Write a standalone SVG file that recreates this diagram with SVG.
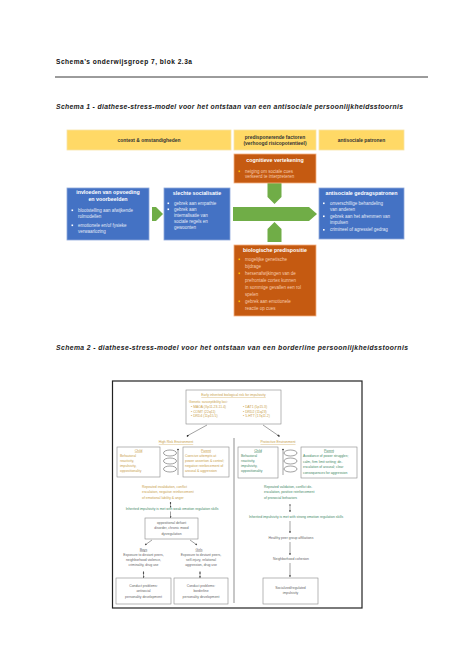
<svg xmlns="http://www.w3.org/2000/svg" width="474" height="669" viewBox="0 0 474 669">
<defs>
<style>
.t{font-family:"Liberation Sans",Arial,sans-serif}
.hdr{font-size:6.6px;font-weight:bold;fill:#111}
.ttl{font-size:6.8px;font-style:italic;font-weight:bold;fill:#222}
.yb{fill:#FFD966;stroke:#F7E4A6;stroke-width:0.8}
.yt{font-size:4.9px;font-weight:bold;fill:#333;text-anchor:middle}
.bb{fill:#4472C4;stroke:#8EA9DB;stroke-width:0.8}
.ob{fill:#C55A11;stroke:#F4B183;stroke-width:0.8}
.bt{font-size:5.3px;font-weight:bold;fill:#fff;text-anchor:middle}
.bl{font-size:4.5px;fill:#E3EAF7}
.ol{font-size:4.5px;fill:#F8CBAD}
.ga{fill:#70AD47}
.s2{font-size:3.4px}
.gd{fill:#C9A14A}
.gr{fill:#3F8A66}
.gy{fill:#666}
.bx{fill:#fff;stroke:#888;stroke-width:0.6}
.ln{stroke:#444;stroke-width:0.5;fill:none}
.mid{text-anchor:middle}
</style>
<marker id="ah" viewBox="0 0 6 6" refX="5" refY="3" markerWidth="4" markerHeight="4" orient="auto"><path d="M0,0 L6,3 L0,6 z" fill="#444"/></marker>
</defs>
<rect width="474" height="669" fill="#fff"/>

<text class="t hdr" x="56" y="64" textLength="136">Schema’s onderwijsgroep 7, blok 2.3a</text>
<line x1="55" y1="77" x2="428" y2="77" stroke="#222" stroke-width="0.9"/>
<text class="t ttl" x="56" y="109" textLength="347">Schema 1 - diathese-stress-model voor het ontstaan van een antisociale persoonlijkheidsstoornis</text>

<!-- Schema 1 -->
<g id="hdr-context"><rect class="yb" x="67" y="130" width="164" height="20"/><text class="t yt" x="149" y="141.5">context &amp; omstandigheden</text></g>
<g id="hdr-predisp"><rect class="yb" x="234" y="130" width="82" height="20"/><text class="t yt" x="275" y="138.5">predisponerende factoren</text><text class="t yt" x="275" y="145">(verhoogd risicopotentieel)</text></g>
<g id="hdr-antisoc"><rect class="yb" x="319" y="130" width="85" height="20"/><text class="t yt" x="361.5" y="141.5">antisociale patronen</text></g>

<g id="connectors1">
<polygon class="ga" points="267.5,183 281.5,183 281.5,197 274.5,204 267.5,197"/>
<polygon class="ga" points="267.5,242 281.5,242 281.5,229 274.5,222 267.5,229"/>
<polygon class="ga" points="233,207 309,207 317,214 309,221 233,221"/>
<polygon class="ga" points="152,207 156,207 163,214 156,221 152,221"/>
</g>

<g id="cognitief"><rect class="ob" x="234" y="154" width="82" height="29"/>
<text class="t bt" x="275" y="162">cognitieve vertekening</text>
<rect x="238.5" y="170.5" width="1.6" height="1.6" fill="#FFC000"/>
<text class="t ol" x="245" y="172.5">neiging om sociale cues</text>
<text class="t ol" x="245" y="178">verkeerd te interpreteren</text></g>

<g id="invloeden"><rect class="bb" x="67" y="188" width="82" height="52"/>
<text class="t bt" x="108" y="194">invloeden van opvoeding</text>
<text class="t bt" x="108" y="200.5">en voorbeelden</text>
<rect x="71.5" y="209.5" width="1.6" height="1.6" fill="#fff"/>
<text class="t bl" x="78" y="211.5">blootstelling aan afwijkende</text>
<text class="t bl" x="78" y="217.5">rolmodellen</text>
<rect x="71.5" y="224.5" width="1.6" height="1.6" fill="#fff"/>
<text class="t bl" x="78" y="226.5">emotionele en/of fysieke</text>
<text class="t bl" x="78" y="232.5">verwaarlozing</text></g>

<g id="socialisatie"><rect class="bb" x="164" y="188" width="66" height="52"/>
<text class="t bt" x="197" y="194.5">slechte socialisatie</text>
<rect x="167.5" y="202.5" width="1.6" height="1.6" fill="#fff"/>
<text class="t bl" x="174" y="204.5">gebrek aan empathie</text>
<rect x="167.5" y="208.5" width="1.6" height="1.6" fill="#fff"/>
<text class="t bl" x="174" y="210.5">gebrek aan</text>
<text class="t bl" x="174" y="216.5">internalisatie van</text>
<text class="t bl" x="174" y="222.5">sociale regels en</text>
<text class="t bl" x="174" y="228.5">gewoonten</text></g>

<g id="gedragspatronen"><rect class="bb" x="319" y="188" width="85" height="51"/>
<text class="t bt" x="361.5" y="194.5">antisociale gedragspatronen</text>
<rect x="323" y="202.5" width="1.6" height="1.6" fill="#fff"/>
<text class="t bl" x="330" y="204.5">onverschillige behandeling</text>
<text class="t bl" x="330" y="210.5">van anderen</text>
<rect x="323" y="215.5" width="1.6" height="1.6" fill="#fff"/>
<text class="t bl" x="330" y="217.5">gebrek aan het afremmen van</text>
<text class="t bl" x="330" y="223.5">impulsen</text>
<rect x="323" y="229" width="1.6" height="1.6" fill="#fff"/>
<text class="t bl" x="330" y="231">crimineel of agressief gedrag</text></g>

<g id="biologisch"><rect class="ob" x="234" y="245" width="82" height="71"/>
<text class="t bt" x="275" y="252">biologische predispositie</text>
<rect x="238.5" y="258.5" width="1.6" height="1.6" fill="#FFC000"/>
<text class="t ol" x="245" y="260.5">mogelijke genetische</text>
<text class="t ol" x="245" y="267.5">bijdrage</text>
<rect x="238.5" y="272.5" width="1.6" height="1.6" fill="#FFC000"/>
<text class="t ol" x="245" y="274.5">hersenafwijkingen van de</text>
<text class="t ol" x="245" y="281.5">prefrontale cortex kunnen</text>
<text class="t ol" x="245" y="288.5">in sommige gevallen een rol</text>
<text class="t ol" x="245" y="295.5">spelen</text>
<rect x="238.5" y="300.5" width="1.6" height="1.6" fill="#FFC000"/>
<text class="t ol" x="245" y="302.5">gebrek aan emotionele</text>
<text class="t ol" x="245" y="309.5">reactie op cues</text></g>

<text class="t ttl" x="56" y="350" textLength="352">Schema 2 - diathese-stress-model voor het ontstaan van een borderline persoonlijkheidsstoornis</text>

<!-- Schema 2 -->
<rect x="112.5" y="381" width="249.5" height="227" fill="#fff" stroke="#222" stroke-width="1.2"/>
<line x1="234" y1="438" x2="234" y2="603" stroke="#444" stroke-width="0.6"/>

<g id="connectors2">
<line class="ln" x1="207" y1="425" x2="187" y2="436" marker-end="url(#ah)"/>
<line class="ln" x1="263" y1="425" x2="279" y2="436" marker-end="url(#ah)"/>
<line class="ln" x1="170.5" y1="502" x2="170.5" y2="507.5" marker-end="url(#ah)"/>
<line class="ln" x1="170.5" y1="511.5" x2="170.5" y2="518" marker-end="url(#ah)"/>
<line class="ln" x1="152" y1="540" x2="145" y2="545" marker-end="url(#ah)"/>
<line class="ln" x1="190" y1="540" x2="197" y2="545" marker-end="url(#ah)"/>
<line class="ln" x1="143.5" y1="571" x2="143.5" y2="578" marker-end="url(#ah)"/>
<line class="ln" x1="200" y1="571" x2="200" y2="578" marker-end="url(#ah)"/>
<line class="ln" x1="290" y1="504" x2="290" y2="512" marker-end="url(#ah)"/>
<line class="ln" x1="290" y1="521" x2="290" y2="533" marker-end="url(#ah)"/>
<line class="ln" x1="290" y1="542" x2="290" y2="555" marker-end="url(#ah)"/>
<line class="ln" x1="290" y1="563" x2="290" y2="577" marker-end="url(#ah)"/>
<g fill="#222"><circle cx="187.5" cy="436" r="0.8"/><circle cx="279" cy="436" r="0.8"/><circle cx="170.5" cy="503" r="0.7"/><circle cx="143.5" cy="573" r="0.7"/><circle cx="200" cy="573" r="0.7"/><circle cx="290" cy="505" r="0.6"/><circle cx="178" cy="449.5" r="0.8"/><circle cx="283" cy="449.5" r="0.8"/></g>
<g class="ln" stroke="#555">
<ellipse cx="170" cy="453" rx="6.5" ry="3"/><ellipse cx="170" cy="461" rx="6.5" ry="3"/><ellipse cx="170" cy="469" rx="6.5" ry="3"/>
<line x1="178" y1="450" x2="178" y2="475"/>
<ellipse cx="290.5" cy="453" rx="6.5" ry="3"/><ellipse cx="290.5" cy="461" rx="6.5" ry="3"/><ellipse cx="290.5" cy="469" rx="6.5" ry="3"/>
<line x1="283" y1="450" x2="283" y2="475"/>
</g>
</g>

<g id="early"><rect class="bx" x="186" y="390" width="95" height="34"/>
<text class="t s2 gd mid" x="233.5" y="396" text-decoration="underline">Early inherited biological risk for impulsivity</text>
<text class="t s2 gd" x="189" y="403">Genetic susceptibility loci:</text>
<text class="t s2 gd" x="191" y="408">• MAOA (Xp11.23-11.4)</text>
<text class="t s2 gd" x="191" y="412.5">• COMT (22q11)</text>
<text class="t s2 gd" x="191" y="417">• DRD4 (11p15.5)</text>
<text class="t s2 gd" x="243" y="408">• DAT1 (5p15.3)</text>
<text class="t s2 gd" x="243" y="412.5">• DRD2 (11q23)</text>
<text class="t s2 gd" x="243" y="417">• 5-HTT (17q11.2)</text></g>

<text class="t s2 gd mid" x="176" y="443" text-decoration="underline">High Risk Environment</text>
<text class="t s2 gd mid" x="278" y="443" text-decoration="underline">Protective Environment</text>

<g id="child-hr"><rect class="bx" x="117" y="447" width="43" height="30"/>
<text class="t s2 gd mid" x="138.5" y="451.5" text-decoration="underline">Child</text>
<text class="t s2 gd" x="120" y="456.5">Behavioral</text>
<text class="t s2 gd" x="120" y="461.5">reactivity,</text>
<text class="t s2 gd" x="120" y="466.5">impulsivity,</text>
<text class="t s2 gd" x="120" y="471.5">oppositionality</text></g>

<g id="parent-hr"><rect class="bx" x="183" y="447" width="46" height="30"/>
<text class="t s2 gd mid" x="206" y="451.5" text-decoration="underline">Parent</text>
<text class="t s2 gd" x="185" y="456.5">Coercive attempts at</text>
<text class="t s2 gd" x="185" y="461.5">power assertion &amp; control;</text>
<text class="t s2 gd" x="185" y="466.5">negative reinforcement of</text>
<text class="t s2 gd" x="185" y="471.5">arousal &amp; aggression</text></g>

<g id="child-pr"><rect class="bx" x="238" y="447" width="40" height="31"/>
<text class="t s2 gr mid" x="258" y="451.5" text-decoration="underline">Child</text>
<text class="t s2 gr" x="241" y="456.5">Behavioral</text>
<text class="t s2 gr" x="241" y="461.5">reactivity,</text>
<text class="t s2 gr" x="241" y="466.5">impulsivity,</text>
<text class="t s2 gr" x="241" y="471.5">oppositionality</text></g>

<g id="parent-pr"><rect class="bx" x="301" y="447" width="56" height="31"/>
<text class="t s2 gr mid" x="329" y="451.5" text-decoration="underline">Parent</text>
<text class="t s2 gr" x="303" y="457">Avoidance of power struggles;</text>
<text class="t s2 gr" x="303" y="462.5">calm, firm limit setting; de-</text>
<text class="t s2 gr" x="303" y="468">escalation of arousal; clear</text>
<text class="t s2 gr" x="303" y="473.5">consequences for aggression</text></g>

<g id="invalidation">
<text class="t s2 gd" x="142" y="487.5">Repeated invalidation, conflict</text>
<text class="t s2 gd" x="142" y="493">escalation, negative reinforcement</text>
<text class="t s2 gd" x="142" y="498.5">of emotional lability &amp; anger</text></g>
<text id="weak" class="t s2 gr mid" x="172" y="510">Inherited impulsivity is met with weak emotion regulation skills</text>

<g id="odd"><rect class="bx" x="145" y="518" width="53" height="21"/>
<text class="t s2 gy mid" x="171.5" y="523.5">oppositional defiant</text>
<text class="t s2 gy mid" x="171.5" y="529">disorder, chronic mood</text>
<text class="t s2 gy mid" x="171.5" y="534.5">dysregulation</text></g>

<g id="boys">
<text class="t s2 gy mid" x="143.5" y="550.5" text-decoration="underline">Boys</text>
<text class="t s2 gy mid" x="143.5" y="556">Exposure to deviant peers,</text>
<text class="t s2 gy mid" x="143.5" y="561">neighborhood violence,</text>
<text class="t s2 gy mid" x="143.5" y="566">criminality, drug use</text></g>
<g id="girls">
<text class="t s2 gy mid" x="199" y="550.5" text-decoration="underline">Girls</text>
<text class="t s2 gy mid" x="201" y="556">Exposure to deviant peers,</text>
<text class="t s2 gy mid" x="201" y="561">self-injury, relational</text>
<text class="t s2 gy mid" x="201" y="566">aggression, drug use</text></g>

<g id="antisocial"><rect class="bx" x="116" y="578" width="55" height="26"/>
<text class="t s2 gy mid" x="143.5" y="586.5">Conduct problems:</text>
<text class="t s2 gy mid" x="143.5" y="592">antisocial</text>
<text class="t s2 gy mid" x="143.5" y="597.5">personality development</text></g>
<g id="borderline"><rect class="bx" x="174" y="578" width="54" height="26"/>
<text class="t s2 gy mid" x="201" y="586.5">Conduct problems:</text>
<text class="t s2 gy mid" x="201" y="592">borderline</text>
<text class="t s2 gy mid" x="201" y="597.5">personality development</text></g>

<g id="validation">
<text class="t s2 gr" x="264" y="487.5">Repeated validation, conflict de-</text>
<text class="t s2 gr" x="264" y="493">escalation, positive reinforcement</text>
<text class="t s2 gr" x="264" y="498.5">of prosocial behaviors</text></g>
<text id="strong" class="t s2 gr mid" x="296" y="518">Inherited impulsivity is met with strong emotion regulation skills</text>
<text id="healthy" class="t s2 gy mid" x="291" y="538.5">Healthy peer group affiliations</text>
<text id="cohesion" class="t s2 gy mid" x="291" y="560">Neighborhood cohesion</text>
<g id="socialized"><rect class="bx" x="263" y="578" width="55" height="26"/>
<text class="t s2 gy mid" x="290.5" y="588.5">Socialized/regulated</text>
<text class="t s2 gy mid" x="290.5" y="594">impulsivity</text></g>
</svg>
